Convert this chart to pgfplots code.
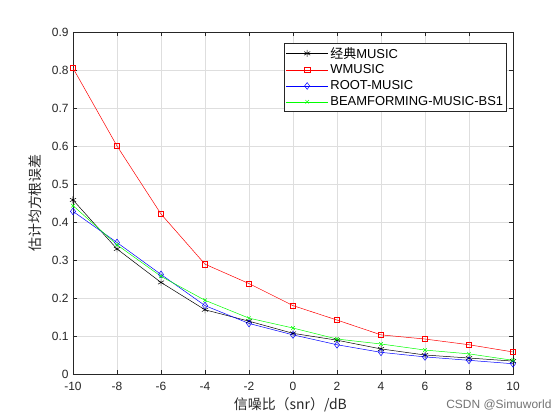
\documentclass[border=0pt]{standalone}
\usepackage{pgfplots}
\pgfplotsset{compat=1.18}
\usepackage{fontspec}
\setmainfont{Liberation Sans}
\newfontfamily\cjk{Noto Sans CJK SC}
\definecolor{axgray}{rgb}{0.15,0.15,0.15}
\definecolor{mgreen}{rgb}{0,1,0}
\begin{document}
\begin{tikzpicture}
\useasboundingbox (-73bp,-46bp) rectangle (487bp,374bp);
\begin{axis}[
  at={(0,0)}, anchor=south west,
  scale only axis, width=440bp, height=342bp,
  xmin=-10, xmax=10, ymin=0, ymax=0.9,
  xtick={-10,-8,...,10}, ytick={0,0.1,...,0.9},
  yticklabel style={/pgf/number format/fixed,/pgf/number format/precision=1},
  /pgf/number format/assume math mode=true,
  tick align=inside, tick pos=both,
  major tick length=4.5bp,
  grid=major,
  grid style={color=black!13, line width=0.4pt},
  axis line style={axgray, line width=0.5pt},
  every tick/.style={axgray},
  ticklabel style={font=\fontsize{12}{14}\selectfont, text=axgray},
  xticklabel style={yshift=-5bp},
  yticklabel style={xshift=-1bp},
  xlabel={\cjk 信噪比（snr）/dB},
  ylabel={\cjk 估计均方根误差},
  label style={font=\fontsize{14}{16}\selectfont, text=axgray},
  xlabel style={at={(axis description cs:0.494,0)}, anchor=center, yshift=-31bp},
  ylabel style={at={(axis description cs:-0.086,0.5)}, anchor=center},
  legend style={at={(rel axis cs:0.986,0.968)}, anchor=north east,
    font=\fontsize{13}{14.5}\selectfont, draw=axgray, line width=0.5pt,
    row sep=1.3bp, inner sep=1.5bp, inner ysep=2bp},
  legend cell align=left,
  legend image code/.code={\draw[mark repeat=2,mark phase=2,#1] plot coordinates {(0bp,0bp) (21bp,0bp) (42bp,0bp)};},
  every axis plot/.append style={line width=0.5pt},
]
\addplot[black, mark=asterisk, mark size=3.5bp] coordinates {
(-10,0.458) (-8,0.329) (-6,0.241) (-4,0.169) (-2,0.139) (0,0.107) (2,0.089) (4,0.066) (6,0.050) (8,0.042) (10,0.034)};
\addlegendentry{{\cjk 经典}MUSIC}
\addplot[red, mark=square, mark size=2.6bp] coordinates {
(-10,0.805) (-8,0.600) (-6,0.421) (-4,0.289) (-2,0.238) (0,0.180) (2,0.142) (4,0.103) (6,0.092) (8,0.077) (10,0.058)};
\addlegendentry{WMUSIC}
\addplot[blue, mark=diamond, mark size=3.4bp] coordinates {
(-10,0.428) (-8,0.346) (-6,0.262) (-4,0.180) (-2,0.133) (0,0.103) (2,0.077) (4,0.057) (6,0.045) (8,0.036) (10,0.027)};
\addlegendentry{ROOT-MUSIC}
\addplot[mgreen, mark=x, mark size=2.5bp] coordinates {
(-10,0.443) (-8,0.340) (-6,0.257) (-4,0.194) (-2,0.147) (0,0.121) (2,0.092) (4,0.079) (6,0.063) (8,0.053) (10,0.036)};
\addlegendentry{BEAMFORMING-MUSIC-BS1}
\end{axis}
\node[anchor=east, text=black!55, font=\fontsize{12}{14}\selectfont] at (482bp,-31bp) {CSDN @Simuworld};
\end{tikzpicture}
\end{document}
